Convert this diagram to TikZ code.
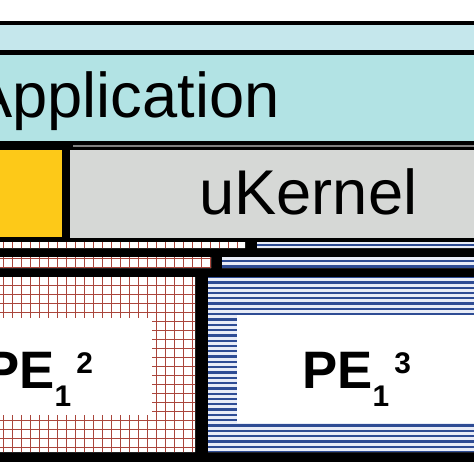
\documentclass[tikz,border=0pt]{standalone}
\usepackage{fontspec}
\setmainfont{Liberation Sans}
\definecolor{appcyan}{RGB}{178,227,228}
\definecolor{appcyanlt}{RGB}{197,231,236}
\definecolor{osyellow}{RGB}{253,201,24}
\definecolor{kernelgray}{RGB}{214,216,214}
\definecolor{gridred}{RGB}{170,70,60}
\definecolor{stripeblue}{RGB}{46,76,148}
\definecolor{stripelt}{RGB}{190,202,232}
\newcommand{\peidx}[2]{\raisebox{-0.36cm}{\fontsize{17}{17}\selectfont #1}\hspace{0.1cm}\raisebox{0.3cm}{\fontsize{17}{17}\selectfont #2}}

\begin{document}
\begin{tikzpicture}[x=0.02cm, y=-0.02cm, every node/.style={inner sep=0pt},
  bigtext/.style={anchor=base west, font=\fontsize{36}{40}\selectfont},
  petext/.style={anchor=base west, font=\fontsize{30}{34}\selectfont\bfseries},
  gridline/.style={gridred, line width=0.5pt},
  stripe/.style={stripeblue, line width=1.3pt}]
  \useasboundingbox (0,0) rectangle (474,474);

  % application layer
  \fill[black] (0,21) rectangle (474,55);
  \fill[appcyanlt] (0,25) rectangle (474,50);
  \fill[appcyan] (0,55) rectangle (474,141);
  \fill[black] (0,141) rectangle (474,150);
  \draw[gray, line width=0.6pt] (73,146) -- (474,146);
  \node[bigtext] (app) at (-30,117) {Application};

  % kernel layer
  \fill[black] (0,150) rectangle (474,238);
  \fill[osyellow] (0,150) rectangle (62,237);
  \fill[kernelgray] (70,150) rectangle (474,238);
  \node[bigtext] (kernel) at (199,214) {uKernel};

  % PE layers
  \fill[black] (0,238) rectangle (474,462);
  \begin{scope}
    \clip (0,242) rectangle (245,248) (0,257) rectangle (211,268) (0,277) rectangle (195,452);
    \fill[white] (0,238) rectangle (250,460);
    \foreach \i in {3,12,...,250} \draw[gridline] (\i,238) -- (\i,460);
    \foreach \j in {240,249,...,460} \draw[gridline] (0,\j) -- (250,\j);
  \end{scope}
  \begin{scope}
    \clip (257,242) rectangle (474,248) (222,257) rectangle (474,268) (208,277) rectangle (474,452);
    \fill[stripelt!35!white] (205,238) rectangle (474,460);
    \foreach \k in {0,...,42} \draw[stripe] (205,240+5.3*\k) -- (474,240+5.3*\k);
  \end{scope}

  \fill[white] (0,318) rectangle (152,415);
  \fill[white] (237,315) rectangle (474,423);
  \node[petext] (pe12) at (-16,388) {PE\peidx{1}{2}};
  \node[petext] (pe13) at (302,388) {PE\peidx{1}{3}};
\end{tikzpicture}
\end{document}
